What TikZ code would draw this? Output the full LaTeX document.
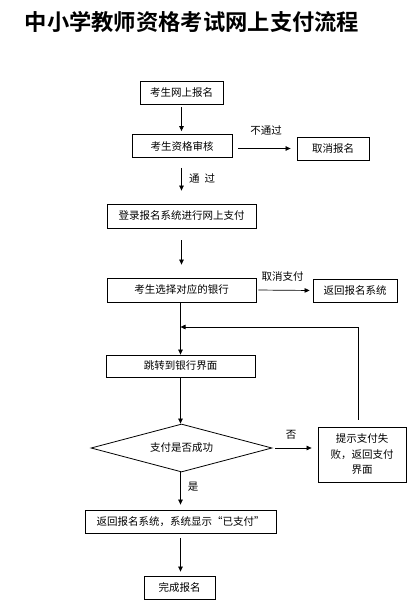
\documentclass[tikz,border=0pt]{standalone}
\usepackage{fontspec}
\setmainfont{Noto Sans CJK SC}
\newfontfamily\cjkbold{Noto Sans CJK SC Bold}
\usetikzlibrary{arrows.meta,shapes.geometric}
\begin{document}
\begin{tikzpicture}[x=1pt,y=-1pt,
  box/.style={draw,line width=0.8pt,inner sep=0pt,font=\fontsize{10.5}{12}\selectfont},
  lbl/.style={inner sep=0pt,font=\fontsize{10.5}{12}\selectfont},
  arr/.style={-{Triangle[length=5pt,width=4.5pt]},line width=0.7pt},
  ln/.style={line width=0.7pt}]
\useasboundingbox[fill=white] (0,0) rectangle (417,607);
\node[inner sep=0pt,font=\cjkbold\fontsize{22.3}{25}\selectfont] (title) at (192,22) {中小学教师资格考试网上支付流程};
\node[box,minimum width=83pt,minimum height=23pt] (b1) at (181.5,92.5) {考生网上报名};
\node[box,minimum width=100pt,minimum height=23pt] (b2) at (182,146) {考生资格审核};
\node[box,minimum width=72pt,minimum height=23pt] (cancel) at (333,148.5) {取消报名};
\node[box,minimum width=149pt,minimum height=24pt] (b3) at (181.5,216) {登录报名系统进行网上支付};
\node[box,minimum width=149pt,minimum height=24pt] (b4) at (181.5,290) {考生选择对应的银行};
\node[box,minimum width=84pt,minimum height=23pt] (ret) at (355,290.5) {返回报名系统};
\node[box,minimum width=149pt,minimum height=22pt] (b5) at (180.5,366) {跳转到银行界面};
\node[box,diamond,aspect=3.77,minimum width=181pt,minimum height=48pt] (dec) at (181.5,448) {支付是否成功};
\node[box,minimum width=88pt,minimum height=55pt,align=center,font=\fontsize{10.5}{15.5}\selectfont] (fail) at (362,454.5) {提示支付失\\败，返回支付\\界面};
\node[box,minimum width=191pt,minimum height=23pt] (b6) at (180.5,521.5) {返回报名系统，系统显示“已支付”};
\node[box,minimum width=71pt,minimum height=23pt] (b7) at (179.5,587.5) {完成报名};
% labels
\node[lbl] (l1) at (266,131) {不通过};
\node[lbl] (l2) at (202,178) {通\hspace{5pt}过};
\node[lbl] (l3) at (282.5,277) {取消支付};
\node[lbl] (l4) at (291,435) {否};
\node[lbl] (l5) at (193,487) {是};
% connectors
\draw[arr,shorten <=3pt,shorten >=3pt] (b1.south) -- (b1.south |- b2.north);
\draw[arr,shorten <=6pt,shorten >=6pt] (b2.east |- cancel.west) -- (cancel.west);
\draw[arr,shorten <=10pt,shorten >=13pt] (b2.south -| b1.south) -- (b1.south |- b3.north);
\draw[arr,shorten <=12pt,shorten >=13pt] (b3.south) -- (b4.north);
\draw[arr,shorten <=2pt,shorten >=3pt] (b4.east) -- (ret.west);
\draw[arr] ([xshift=-1pt]b4.south) -- ([xshift=-1pt]b4.south |- b5.north);
\draw[arr] ([xshift=-1pt]b4.south |- b5.south) -- ([xshift=-1pt]b4.south |- dec.north);
\coordinate (fb) at ([xshift=-4pt]fail.north |- 0,327);
\draw[ln,shorten <=7pt] ([xshift=-4pt]fail.north) -- (fb);
\draw[arr] (fb) -- ([xshift=-1pt]b4.south |- fb);
\draw[arr,shorten <=3pt,shorten >=6pt] (dec.east) -- (fail.west |- dec.east);
\draw[arr,shorten >=5pt] ([xshift=-1pt]dec.south) -- ([xshift=-1pt]dec.south |- b6.north);
\draw[arr,shorten <=5pt,shorten >=4pt] (b6.south) -- (b6.south |- b7.north);
\end{tikzpicture}
\end{document}
